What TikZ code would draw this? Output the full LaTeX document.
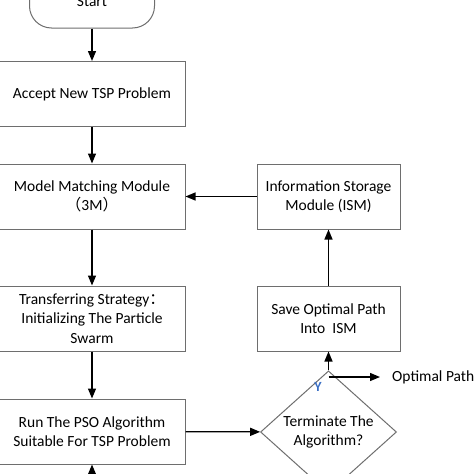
\documentclass[tikz,border=0pt]{standalone}
\usepackage{fontspec}
\setmainfont{Carlito}
\newfontfamily\cjkfont{Noto Sans CJK SC}
\usepackage{tikz}
\usetikzlibrary{arrows.meta,positioning,shapes.geometric}
\usepackage{xcolor}
\definecolor{tspedge}{HTML}{6E6E6E}
\definecolor{tspblue}{HTML}{3A6FC4}
\tikzset{
  procbox/.style={
    rectangle,
    draw=tspedge,
    line width=1pt,
    fill=white,
    align=center,
    inner sep=0pt,
    minimum width=186pt,
    minimum height=65pt,
    font=\fontsize{15.5}{19.5}\selectfont
  },
  sidebox/.style={procbox, minimum width=143pt},
  termbox/.style={procbox, rounded corners=22pt, minimum width=125pt, minimum height=52pt},
  decbox/.style={
    diamond,
    draw=tspedge,
    line width=1pt,
    align=center,
    inner sep=0pt,
    minimum width=136pt,
    minimum height=72pt,
    font=\fontsize{15.5}{18.5}\selectfont
  },
  flowarrow/.style={-{Triangle[length=10pt,width=8pt]}, line width=1.3pt, draw=black}
}

\begin{document}
\begin{tikzpicture}[x=1pt,y=1pt]
\useasboundingbox (0,0) rectangle (474,-474);
\node[termbox] (start) at (92,-2) {Start};
\node[procbox] (accept) at (92,-94) {Accept New TSP Problem};
\node[procbox] (model) at (92,-196.5) {Model Matching Module\\{\cjkfont （}3M{\cjkfont ）}};
\node[procbox] (transfer) at (92,-318.5) {Transferring Strategy{\cjkfont ：}\\Initializing The Particle\\Swarm};
\node[procbox] (run) at (92,-431.5) {Run The PSO Algorithm\\Suitable For TSP Problem};
\node[sidebox] (info) at (328.5,-196.5) {Information Storage\\Module (ISM)};
\node[sidebox] (save) at (328.5,-318.5) {Save Optimal Path\\Into\ \ ISM};
\node[decbox] (term) at (328.5,-432) {Terminate The\\Algorithm?};
\coordinate (split) at (328.5,-377);
\coordinate (outend) at (380,-377);
\coordinate (below) at (92,-490);
\coordinate (termdown) at (328.5,-490);
\node[anchor=west, font=\fontsize{15.5}{18}\selectfont, inner sep=0pt] (optpath) at (392,-377) {Optimal Path};
\node[font=\fontsize{14}{16}\selectfont\bfseries, text=tspblue, inner sep=0pt] (yes) at (318,-387) {Y};
\draw[flowarrow] (start) -- (accept);
\draw[flowarrow] (accept) -- (model);
\draw[flowarrow] (model) -- (transfer);
\draw[flowarrow] (transfer) -- (run);
\draw[flowarrow] (below) -- (run);
\draw[flowarrow] (run) -- (term);
\draw[flowarrow] (term) -- (save);
\draw[flowarrow] (save) -- (info);
\draw[flowarrow] (info) -- (model);
\draw[flowarrow] (split) -- (outend);
\draw[line width=1.3pt] (term) -- (termdown);
\end{tikzpicture}
\end{document}
